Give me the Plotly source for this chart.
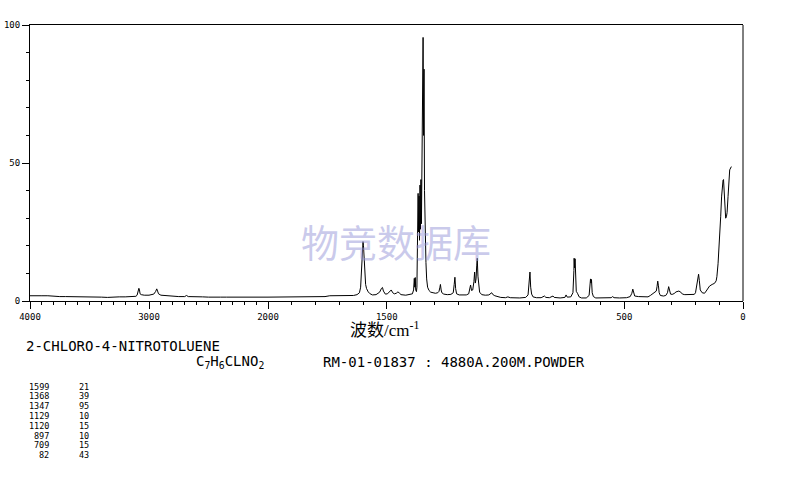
import plotly.graph_objects as go

# ---------------- data ----------------
wavenumber = [
    4000, 3950, 3900, 3850, 3800, 3750, 3700, 3650, 3600, 3550, 3500, 3450, 3400, 3350,
    3300, 3250, 3200, 3150, 3110, 3100, 3092, 3085, 3080, 3075, 3065, 3040, 3000, 2980,
    2960, 2945, 2935, 2928, 2920, 2900, 2850, 2800, 2750, 2700, 2685, 2670, 2600, 2550,
    2500, 2450, 2400, 2350, 2300, 2250, 2200, 2150, 2100, 2050, 2000,
    1950, 1900, 1850, 1800, 1760, 1740, 1700, 1660, 1640, 1625, 1615, 1610, 1606, 1603,
    1600, 1598, 1596, 1594, 1592, 1589, 1585, 1578, 1570, 1560, 1545, 1530, 1522, 1518,
    1514, 1506, 1497, 1488, 1481, 1475, 1468, 1460, 1453, 1447, 1440, 1420, 1400, 1392,
    1387, 1384, 1382, 1380, 1378, 1375, 1373, 1371, 1369, 1368, 1366, 1364, 1362, 1360,
    1358, 1356, 1354, 1352, 1350, 1348, 1347, 1345, 1343, 1341, 1338, 1335, 1332, 1328,
    1322, 1315, 1305, 1295, 1285, 1280, 1276, 1274, 1271, 1268, 1260, 1245, 1230, 1220,
    1216, 1213, 1210, 1206, 1195, 1180, 1165, 1155, 1150, 1147, 1143, 1138, 1133, 1130,
    1127, 1124, 1121, 1119, 1116, 1113, 1109, 1100, 1085, 1070, 1062, 1058, 1054, 1045,
    1020, 1000, 990, 980, 940, 915, 905, 900, 897, 894, 890, 884, 870, 850, 836, 830,
    815, 800, 795, 770, 750, 745, 740, 725, 716, 712, 711, 709, 707, 705, 702, 697, 690,
    680, 660, 648, 644, 642, 640, 638, 635, 630, 620, 580, 555, 549, 543, 520, 490, 475,
    468, 464, 460, 456, 440, 420, 400, 390, 380, 372, 365, 362, 359, 356, 353, 348, 335,
    325, 318, 313, 309, 305, 298, 290, 282, 270, 262, 255, 245, 220, 205, 200, 196, 193,
    190, 187, 184, 180, 172, 162, 155, 148, 141, 130, 120, 113, 110, 105, 101, 97, 94,
    90, 87, 84, 82, 79, 76, 73, 70, 67, 63, 60, 56, 49,
]
intensity = [
    1.9, 2.0, 1.9, 1.9, 1.7, 1.6, 1.6, 1.6, 1.5, 1.5, 1.4, 1.5, 1.4, 1.3,
    1.5, 1.5, 1.5, 1.6, 1.7, 2.1, 3.2, 4.6, 4.0, 2.6, 2.3, 2.1, 2.1, 2.2,
    2.5, 3.4, 4.4, 3.6, 2.6, 2.1, 1.9, 1.7, 1.6, 1.6, 2.0, 1.6, 1.4, 1.5,
    1.4, 1.5, 1.4, 1.4, 1.4, 1.5, 1.4, 1.3, 1.3, 1.4, 1.4,
    1.4, 1.4, 1.4, 1.5, 1.6, 1.9, 1.9, 2.0, 2.0, 2.3, 3.0, 5.0, 13.8, 19.0,
    21.5, 20.0, 17.0, 12.0, 8.0, 6.0, 4.5, 3.3, 2.6, 2.2, 2.3, 3.2, 4.6, 4.9,
    3.6, 2.5, 2.6, 3.6, 4.0, 3.0, 2.6, 2.8, 3.3, 2.9, 2.3, 2.1, 2.3, 2.6,
    4.0, 8.2, 5.0, 8.5, 4.0, 3.4, 5.0, 15.0, 30.0, 39.0, 25.0, 38.0, 22.0, 42.0,
    26.0, 44.0, 28.0, 46.0, 60.0, 85.0, 95.5, 60.0, 84.0, 40.0, 22.0, 14.0, 8.0, 5.0,
    3.8, 3.2, 3.0, 2.8, 3.0, 3.5, 5.0, 6.0, 4.0, 3.0, 2.5, 2.3, 2.4, 3.0,
    6.0, 8.6, 4.5, 2.6, 2.2, 2.1, 2.2, 2.6, 4.5, 5.8, 3.8, 4.0, 7.0, 10.5,
    6.5, 8.0, 13.0, 15.5, 9.0, 5.0, 3.2, 2.3, 2.1, 2.2, 2.6, 3.0, 2.4, 1.9,
    1.3, 1.2, 1.5, 1.2, 1.1, 1.3, 2.2, 7.5, 10.5, 5.0, 2.5, 1.5, 1.2, 1.2, 1.8, 1.3,
    1.2, 1.8, 1.3, 1.1, 1.3, 2.2, 1.4, 1.5, 3.0, 11.0, 15.5, 12.0, 15.3, 6.0, 3.5, 2.8, 1.5,
    1.1, 1.1, 2.0, 6.0, 8.0, 6.5, 7.8, 3.0, 1.6, 1.1, 1.1, 1.2, 1.6, 1.2, 1.1, 1.2, 1.6,
    2.8, 4.3, 2.8, 1.8, 1.6, 1.5, 1.5, 2.0, 2.6, 2.9, 3.6, 5.2, 7.2, 5.5, 3.0, 2.0, 1.8,
    2.0, 3.0, 5.2, 4.0, 2.5, 2.4, 2.7, 3.3, 3.6, 3.2, 2.5, 2.3, 2.3, 2.4, 3.0, 5.5, 6.7,
    8.5, 9.7, 7.5, 4.0, 3.0, 2.8, 3.6, 4.6, 5.4, 6.0, 6.4, 7.3, 8.8, 13.5, 18.5, 25.0, 30.5,
    38.0, 43.8, 43.8, 44.0, 40.0, 33.0, 30.0, 30.5, 32.0, 37.8, 42.0, 47.5, 48.7,
]

break_wavenumber = 2000
x_hi_ticks = [4000, 3000, 2000]
x_hi_labels = ["4000", "3000", "2000"]
x_lo_ticks = [1500, 500, 0]
x_lo_labels = ["1500", "500", "0"]
y_ticks = [0, 50, 100]
y_labels = ["0", "50", "100"]

compound_name = "2-CHLORO-4-NITROTOLUENE"
formula = "C<sub>7</sub>H<sub>6</sub>CLNO<sub>2</sub>"
sample_info = "RM-01-01837 : 4880A.200M.POWDER"
x_title = "波数/cm<sup>-1</sup>"
watermark = "物竞数据库"

peak_wavenumbers = ["1599", "1368", "1347", "1129", "1120", "897", "709", "82"]
peak_intensities = ["21", "39", "95", "10", "15", "10", "15", "43"]

# ---------------- split the spectrum at the axis break ----------------
w_hi = [w for w in wavenumber if w >= break_wavenumber]
v_hi = [v for w, v in zip(wavenumber, intensity) if w >= break_wavenumber]
w_lo = [w for w in wavenumber if w <= break_wavenumber]
v_lo = [v for w, v in zip(wavenumber, intensity) if w <= break_wavenumber]

# ---------------- geometry ----------------
W, H = 794, 482
ML, MT = 30, 25
plot_w, plot_h = 713, 276
MR = W - ML - plot_w
MB = H - MT - plot_h
split = 238 / plot_w


def px(x):
    return (x - ML) / plot_w


def py(y):
    return (MT + plot_h - y) / plot_h


mono = "DejaVu Sans Mono, Liberation Mono, monospace"
tickfont = dict(family=mono, size=9, color="black")

fig = go.Figure()
line_style = dict(color="black", width=1)
fig.add_trace(go.Scatter(x=w_hi, y=v_hi, mode="lines", line=line_style,
                         xaxis="x", yaxis="y", showlegend=False, hoverinfo="skip"))
fig.add_trace(go.Scatter(x=w_lo, y=v_lo, mode="lines", line=line_style,
                         xaxis="x2", yaxis="y", showlegend=False, hoverinfo="skip"))

common_x = dict(
    showline=True, linecolor="black", linewidth=1, mirror=True,
    ticks="outside", ticklen=7, tickwidth=1, tickcolor="black",
    showgrid=False, zeroline=False, tickfont=tickfont, automargin=False,
    minor=dict(ticks="outside", ticklen=3, tickwidth=1, tickcolor="black",
               dtick=100, tick0=0, showgrid=False),
)

fig.update_layout(
    width=W, height=H,
    margin=dict(l=ML, r=MR, t=MT, b=MB),
    template="none",
    paper_bgcolor="white", plot_bgcolor="white",
    showlegend=False,
    xaxis=dict(domain=[0, split], range=[4000, 2000], anchor="y",
               tickmode="array", tickvals=x_hi_ticks, ticktext=x_hi_labels, **common_x),
    xaxis2=dict(domain=[split, 1], range=[2000, 0], anchor="y",
                tickmode="array", tickvals=x_lo_ticks, ticktext=x_lo_labels, **common_x),
    yaxis=dict(domain=[0, 1], range=[0, 100], anchor="x",
               showline=True, linecolor="black", linewidth=1,
               ticks="outside", ticklen=7, tickwidth=1, tickcolor="black",
               tickmode="array", tickvals=y_ticks, ticktext=y_labels,
               showgrid=False, zeroline=False, tickfont=tickfont, automargin=False,
               minor=dict(ticks="outside", ticklen=3, tickwidth=1, tickcolor="black",
                          dtick=10, tick0=0, showgrid=False)),
    shapes=[dict(type="line", xref="paper", yref="paper", x0=1, x1=1, y0=0, y1=1,
                 line=dict(color="black", width=1))],
)

annotations = [
    dict(text=watermark, x=px(396), y=py(240), xanchor="center", yanchor="middle",
         font=dict(family="Noto Sans CJK SC", size=38, color="rgba(150,150,215,0.5)")),
    dict(text=x_title, x=px(384), y=py(329), xanchor="center", yanchor="middle",
         font=dict(family="Liberation Serif, Noto Sans CJK SC", size=17, color="black")),
    dict(text=compound_name, x=px(24), y=py(346), xanchor="left", yanchor="middle",
         font=dict(family=mono, size=14, color="black")),
    dict(text=formula, x=px(194), y=py(362), xanchor="left", yanchor="middle",
         font=dict(family=mono, size=14, color="black")),
    dict(text=sample_info, x=px(321), y=py(362), xanchor="left", yanchor="middle",
         font=dict(family=mono, size=14, color="black")),
]
row_gap = 9.8
for i, (wv, iv) in enumerate(zip(peak_wavenumbers, peak_intensities)):
    yc = py(386.5 + i * row_gap)
    annotations.append(dict(text=wv, x=px(51), y=yc, xanchor="right", yanchor="middle",
                            font=dict(family=mono, size=8.5, color="black")))
    annotations.append(dict(text=iv, x=px(91), y=yc, xanchor="right", yanchor="middle",
                            font=dict(family=mono, size=8.5, color="black")))
for a in annotations:
    a.update(xref="paper", yref="paper", showarrow=False)
fig.update_layout(annotations=annotations)

fig.write_html("out.html",
               config={"displayModeBar": False, "staticPlot": True},
               post_script="document.body.style.margin='0';")
